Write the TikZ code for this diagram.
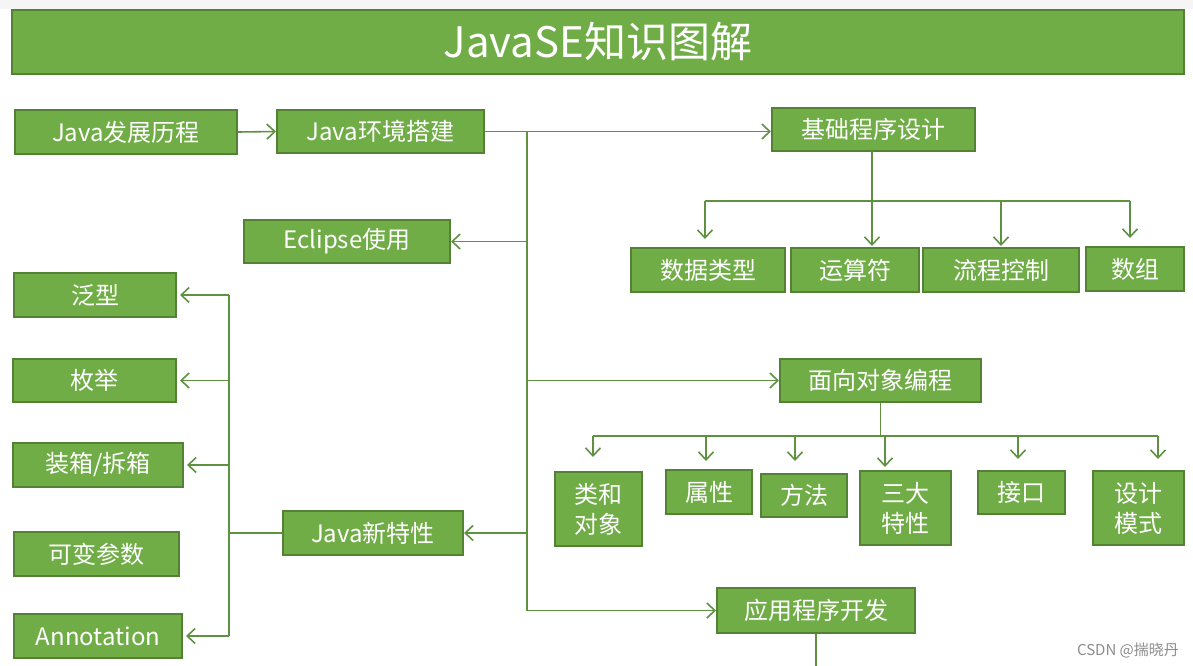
\documentclass[tikz,border=0pt]{standalone}
\usepackage{fontspec}
\setmainfont{Noto Sans CJK SC}
\usetikzlibrary{arrows.meta}
\definecolor{boxfill}{HTML}{70AD47}
\definecolor{boxline}{HTML}{548235}
\definecolor{wirecol}{HTML}{5E9140}
\tikzset{
  item/.style={draw=boxline, fill=boxfill, line width=2pt, text=white, inner sep=0pt,
    font=\fontsize{24}{30}\selectfont, align=center},
  wire/.style={draw=wirecol, line width=1.6pt},
  feed/.style={wire, -{Straight Barb[length=8pt,width=15pt]}},
}
\begin{document}
\begin{tikzpicture}[x=1pt,y=-1pt]
    \useasboundingbox (0,0) rectangle (1193,666);
    \fill[black!4] (0,0) rectangle (1193,9);
    % title bar
    \node[item, minimum width=1172pt, minimum height=64pt, line width=2.5pt,
      font=\fontsize{42}{50}\selectfont] (title) at (598,42) {JavaSE知识图解};
    % main line
    \node[item, minimum width=222pt, minimum height=44pt] (hist) at (126,132) {Java发展历程};
    \node[item, minimum width=207pt, minimum height=43pt] (env) at (380.5,131.5) {Java环境搭建};
    \node[item, minimum width=203pt, minimum height=43pt] (basic) at (873.5,129.5) {基础程序设计};
    \node[item, minimum width=206pt, minimum height=43pt] (eclipse) at (347,241.5) {Eclipse使用};
    \node[item, minimum width=201pt, minimum height=43pt] (oop) at (880.5,380.5) {面向对象编程};
    \node[item, minimum width=180pt, minimum height=44pt] (newf) at (373,533) {Java新特性};
    \node[item, minimum width=198pt, minimum height=45pt] (app) at (816,610.5) {应用程序开发};
    % basics
    \node[item, minimum width=154pt, minimum height=44pt] (dtype) at (708,270) {数据类型};
    \node[item, minimum width=128pt, minimum height=44pt] (oper) at (855,270) {运算符};
    \node[item, minimum width=156pt, minimum height=44pt] (flow) at (1001,270) {流程控制};
    \node[item, minimum width=98pt, minimum height=44pt] (array) at (1135,269) {数组};
    % object oriented
    \node[item, minimum width=87pt, minimum height=74pt] (cls) at (598.5,509) {类和\\对象};
    \node[item, minimum width=86pt, minimum height=44pt] (attr) at (709,492) {属性};
    \node[item, minimum width=86pt, minimum height=43pt] (meth) at (804,495.5) {方法};
    \node[item, minimum width=91pt, minimum height=74pt] (three) at (905.5,508) {三大\\特性};
    \node[item, minimum width=87pt, minimum height=43pt] (intf) at (1021.5,492.5) {接口};
    \node[item, minimum width=91pt, minimum height=74pt] (pat) at (1138.5,508) {设计\\模式};
    % new features
    \node[item, minimum width=162pt, minimum height=44pt] (gen) at (95,295) {泛型};
    \node[item, minimum width=163pt, minimum height=43pt] (enum) at (94.5,380.5) {枚举};
    \node[item, minimum width=170pt, minimum height=44pt] (boxing) at (98,465) {装箱/拆箱};
    \node[item, minimum width=165pt, minimum height=44pt] (varg) at (96.5,554) {可变参数};
    \node[item, minimum width=168pt, minimum height=44pt] (anno) at (98,636) {Annotation};
    \node[text=black!45, font=\fontsize{15}{18}\selectfont] (mark) at (1128,650) {CSDN @揣晓丹};

    % connectors
    \draw[feed] (hist.east) -- (env.west);
    \draw[feed] (env.east) -- (env.east -| basic.west);
    \coordinate (trunk) at (527,131.5);
    \draw[feed] (trunk) |- (app.west);
    \draw[feed] (trunk |- eclipse) -- (eclipse.east);
    \draw[feed] (trunk |- oop) -- (oop.west);
    \draw[feed] (trunk |- newf) -- (newf.east);
    \draw[wire] (app.south) -- ++(0,33);

    \draw[wire] (872,151) -- (872,201);
    \draw[wire] (705,201) -- (1130,201);
    \foreach \n/\xx/\s in {dtype/705/8pt, oper/872/1pt, flow/1001/1pt, array/1130/8pt}
      \draw[feed, shorten >=\s] (\xx,201) -- (\xx,201 |- \n.north);

    \draw[wire] (oop.south) -- (oop.south |- 0,436);
    \draw[wire] (593,436) -- (1158,436);
    \foreach \n/\xx/\s in {cls/593/14pt, attr/706/8pt, meth/795/12pt, three/885/3pt, intf/1018/11pt, pat/1158/11pt}
      \draw[feed, shorten >=\s] (\xx,436) -- (\xx,436 |- \n.north);

    \draw[wire] (newf.west) -- (229,533);
    \draw[wire] (229,295) -- (229,636);
    \foreach \n in {gen,enum,boxing,anno}
      \draw[feed, shorten >=3pt] (229,0 |- \n) -- (\n.east);
\end{tikzpicture}
\end{document}
